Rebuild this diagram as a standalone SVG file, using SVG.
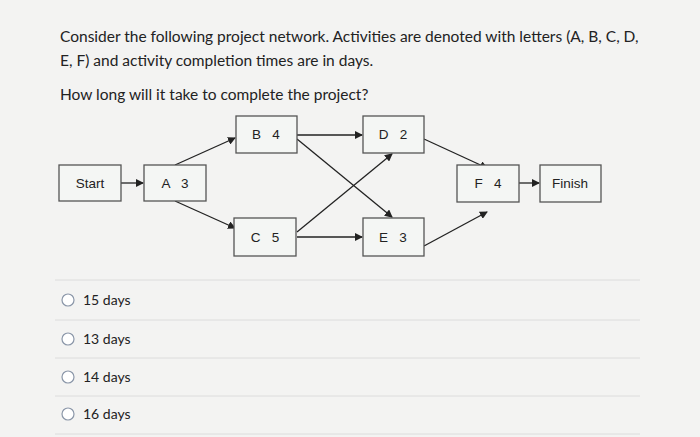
<svg xmlns="http://www.w3.org/2000/svg" width="700" height="437" viewBox="0 0 700 437">
<defs><marker id="ah" markerWidth="8" markerHeight="8" refX="7" refY="4" orient="auto" markerUnits="userSpaceOnUse"><path d="M0,0 L8,4 L0,8 z" fill="#222"/></marker></defs>
<style>
.t{font-family:Lato,"Liberation Sans",sans-serif;fill:#222}
.q{font-size:15.5px}
.n rect{fill:#f4f6f4;stroke:#555;stroke-width:1.3}
.n text{font-family:"Liberation Sans",sans-serif;font-size:13.5px;fill:#222;text-anchor:middle;white-space:pre}
.c line{stroke:#222;stroke-width:1.3;marker-end:url(#ah)}
.o circle{fill:#fff;stroke:#8a96a8;stroke-width:1.2}
.o text{font-size:14px}
.sep{stroke:#dcdcdc;stroke-width:1}
</style>
<rect width="700" height="437" fill="#f3f3f2"/>
<text class="t q" x="60" y="42">Consider the following project network. Activities are denoted with letters (A, B, C, D,</text>
<text class="t q" x="60" y="66">E, F) and activity completion times are in days.</text>
<text class="t q" x="60" y="100">How long will it take to complete the project?</text>
<g class="c">
<line x1="121" y1="183" x2="143" y2="183"/>
<line x1="175" y1="165" x2="235" y2="138"/>
<line x1="175" y1="201" x2="235" y2="228"/>
<line x1="297" y1="135" x2="362" y2="135"/>
<line x1="297" y1="237" x2="362" y2="237"/>
<line x1="297" y1="139" x2="392" y2="217"/>
<line x1="297" y1="232" x2="392" y2="154"/>
<line x1="424" y1="139" x2="487" y2="168"/>
<line x1="424" y1="246" x2="487" y2="212"/>
<line x1="519" y1="183" x2="539" y2="183"/>
</g>
<g id="start" class="n"><rect x="59" y="165" width="62" height="36"/><text x="90" y="188">Start</text></g>
<g id="a" class="n"><rect x="144" y="165" width="62" height="36"/><text x="175" y="188">A   3</text></g>
<g id="b" class="n"><rect x="236" y="116" width="61" height="37"/><text x="266" y="139">B   4</text></g>
<g id="c" class="n"><rect x="234" y="218" width="62" height="38"/><text x="265" y="242">C   5</text></g>
<g id="d" class="n"><rect x="363" y="116" width="61" height="37"/><text x="393" y="139">D   2</text></g>
<g id="e" class="n"><rect x="363" y="218" width="61" height="38"/><text x="393" y="242">E   3</text></g>
<g id="f" class="n"><rect x="457" y="165" width="62" height="37"/><text x="488" y="188">F   4</text></g>
<g id="finish" class="n"><rect x="540" y="165" width="61" height="37"/><text x="570" y="188">Finish</text></g>
<line class="sep" x1="55" y1="280" x2="640" y2="280"/>
<line class="sep" x1="55" y1="320" x2="640" y2="320"/>
<line class="sep" x1="55" y1="358" x2="640" y2="358"/>
<line class="sep" x1="55" y1="396" x2="640" y2="396"/>
<line class="sep" x1="55" y1="434" x2="640" y2="434"/>
<g class="o">
<circle cx="68" cy="300" r="6"/><text class="t" x="83" y="305">15 days</text>
<circle cx="68" cy="339" r="6"/><text class="t" x="83" y="344">13 days</text>
<circle cx="68" cy="377" r="6"/><text class="t" x="83" y="382">14 days</text>
<circle cx="68" cy="414" r="6"/><text class="t" x="83" y="419">16 days</text>
</g>
</svg>
